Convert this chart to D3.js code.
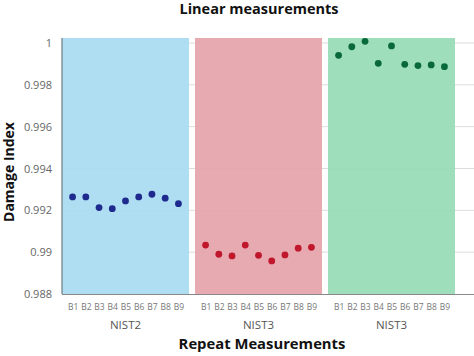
<!DOCTYPE html>
<html>
<head>
<meta charset="utf-8">
<script src="https://d3js.org/d3.v7.min.js"></script>
<style>
  body { margin: 0; background: #fff; }
  svg { font-family: "Open Sans", sans-serif; }
</style>
</head>
<body>
<div id="chart"></div>
<script>
// groups and batches
var groups = ["NIST2", "NIST3 ", "NIST3"];
var groupLabels = ["NIST2", "NIST3", "NIST3"];
var batches = ["B1", "B2", "B3", "B4", "B5", "B6", "B7", "B8", "B9"];
var yTicks = [0.988, 0.99, 0.992, 0.994, 0.996, 0.998, 1];
var yTickLabels = ["0.988", "0.99", "0.992", "0.994", "0.996", "0.998", "1"];

// damage index per batch
var nist2Values = [0.99264, 0.99264, 0.99213, 0.99208, 0.99245, 0.99264, 0.99277, 0.99258, 0.99232];
var nist3aValues = [0.99034, 0.98990, 0.98982, 0.99034, 0.98985, 0.98958, 0.98987, 0.99019, 0.99023];
var nist3bValues = [0.99941, 0.99982, 1.00008, 0.99903, 0.99986, 0.99898, 0.99892, 0.99895, 0.99887];

var panelColors = ["#a9dcf1", "#e4a4aa", "#98dbb6"];
var dotColors = ["#1e2a8e", "#c1172c", "#09693a"];

var width = 474, height = 356;
var margin = { top: 38, right: 0, bottom: 62, left: 62 };

var svg = d3.select("#chart").append("svg")
    .attr("width", width)
    .attr("height", height);

var y = d3.scaleLinear()
    .domain([0.988, 1])
    .range([294, 43]);

var x0 = d3.scaleBand()
    .domain(groups)
    .range([59, 458])
    .paddingInner(0.045)
    .paddingOuter(0.0225);

var x1 = d3.scalePoint()
    .domain(batches)
    .range([0, x0.bandwidth()])
    .padding(0.8);

var series = [nist2Values, nist3aValues, nist3bValues];

// grid lines
svg.append("g").selectAll("line")
    .data(yTicks.slice(1))
    .enter().append("line")
    .attr("x1", margin.left).attr("x2", width)
    .attr("y1", function (d) { return y(d); })
    .attr("y2", function (d) { return y(d); })
    .attr("stroke", "#dcdcdc")
    .attr("stroke-width", 1);

// background panels
svg.append("g").selectAll("rect")
    .data(groups)
    .enter().append("rect")
    .attr("x", function (d) { return x0(d); })
    .attr("y", y(1.00024))
    .attr("width", x0.bandwidth())
    .attr("height", y(0.988) - y(1.00024))
    .attr("fill", function (d, i) { return panelColors[i]; })
    .attr("fill-opacity", 0.93);

// y axis
var yAxis = svg.append("g")
    .attr("transform", "translate(" + margin.left + ",0)")
    .call(d3.axisLeft(y).tickValues(yTicks)
        .tickFormat(function (d, i) { return yTickLabels[i]; })
        .tickSize(0).tickPadding(10));
yAxis.select(".domain").remove();
yAxis.selectAll("text")
    .attr("font-size", 11)
    .attr("fill", "#666")
    .style("font-family", "Open Sans, sans-serif");

svg.append("line")
    .attr("x1", margin.left).attr("x2", margin.left)
    .attr("y1", y(1.00024)).attr("y2", y(0.988))
    .attr("stroke", "#6b7b80").attr("stroke-width", 1.2);

svg.append("line")
    .attr("x1", margin.left).attr("x2", width)
    .attr("y1", y(0.988) + 0.5).attr("y2", y(0.988) + 0.5)
    .attr("stroke", "#888").attr("stroke-width", 1);

// dots
groups.forEach(function (g, gi) {
    svg.append("g")
        .attr("transform", "translate(" + x0(g) + ",0)")
        .selectAll("circle")
        .data(series[gi])
        .enter().append("circle")
        .attr("cx", function (d, i) { return x1(batches[i]); })
        .attr("cy", function (d) { return y(d); })
        .attr("r", 3.4)
        .attr("fill", dotColors[gi]);

    // batch labels
    var gx = svg.append("g")
        .attr("transform", "translate(" + x0(g) + "," + (y(0.988) + 10) + ")")
        .call(d3.axisBottom(x1).tickSize(0).tickPadding(0));
    gx.select(".domain").remove();
    gx.selectAll("text")
        .attr("font-size", 8.5)
        .attr("fill", "#777")
        .style("font-family", "Open Sans, sans-serif");

    svg.append("text")
        .attr("x", x0(g) + x0.bandwidth() / 2)
        .attr("y", 329)
        .attr("text-anchor", "middle")
        .attr("font-size", 11.5)
        .attr("fill", "#555")
        .text(groupLabels[gi]);
});

// titles
svg.append("text")
    .attr("x", 259).attr("y", 14)
    .attr("text-anchor", "middle")
    .attr("font-size", 14.5)
    .attr("font-weight", "bold")
    .attr("fill", "#111")
    .text("Linear measurements");

svg.append("text")
    .attr("x", 262).attr("y", 349)
    .attr("text-anchor", "middle")
    .attr("font-size", 14.8)
    .attr("font-weight", "bold")
    .attr("fill", "#111")
    .text("Repeat Measurements");

svg.append("text")
    .attr("transform", "translate(14,172) rotate(-90)")
    .attr("text-anchor", "middle")
    .attr("font-size", 14)
    .attr("font-weight", "bold")
    .attr("fill", "#111")
    .text("Damage Index");
</script>
</body>
</html>
